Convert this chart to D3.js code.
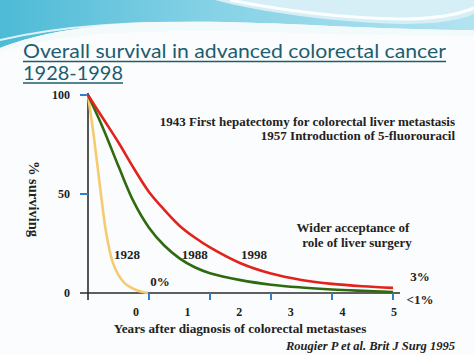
<!DOCTYPE html>
<html><head><meta charset="utf-8">
<script src="https://cdn.jsdelivr.net/npm/d3@7"></script>
<style>
html,body{margin:0;padding:0;background:#fbfcfd;}
svg{display:block;}
</style></head>
<body>
<svg id="chart" width="474" height="355"></svg>
<script>
// ---- data ----
const years1928 = [0, 0.1, 0.2, 0.3, 0.4, 0.5, 0.6, 0.7, 0.8, 0.9, 0.98];
const surv1928  = [100, 78, 53, 30, 16, 9, 5, 2.8, 1.4, 0.5, 0];
const years1988 = [0, 0.25, 0.5, 0.75, 1.0, 1.25, 1.5, 1.75, 2.0, 2.5, 3.0, 3.5, 4.0, 4.5, 5.0];
const surv1988  = [100, 83, 64, 46, 33, 24, 17.5, 13, 10, 6.5, 4.2, 2.8, 1.8, 1.1, 0.5];
const years1998 = [0, 0.25, 0.5, 0.75, 1.0, 1.25, 1.5, 1.75, 2.0, 2.5, 3.0, 3.5, 4.0, 4.5, 5.0];
const surv1998  = [100, 88, 76, 63, 51, 42, 34, 28, 23, 15, 9.8, 6.6, 4.6, 3.4, 2.6];
const seriesNames = ["1928", "1988", "1998"];
const xTickYears = [1, 2, 3, 4, 5];
const xTickLabels = ["0", "1", "2", "3", "4", "5"];
const yTicks = [0, 50, 100];
const titleLines = ["Overall survival in advanced colorectal cancer", "1928-1998"];
const annotations = ["1943 First hepatectomy for colorectal liver metastasis", "1957 Introduction of 5-fluorouracil"];
const annotation2 = ["Wider acceptance of", "role of liver surgery"];

const svg = d3.select("#chart");

// ---- header decoration ----
const defs = svg.append("defs");
const g1 = defs.append("linearGradient").attr("id","hdr").attr("x1","0").attr("x2","1").attr("y1","0").attr("y2","0");
g1.append("stop").attr("offset","0%").attr("stop-color","#4dbad6");
g1.append("stop").attr("offset","45%").attr("stop-color","#86d2e6");
g1.append("stop").attr("offset","100%").attr("stop-color","#b3e3f0");
svg.append("path").attr("d","M0,0 H474 V30 C430,30 380,28 330,26 C250,22 180,20 120,24 C70,28 30,36 0,48 Z").attr("fill","url(#hdr)");
svg.append("path").attr("d","M215,0 C260,12 330,22 400,24 C440,24 460,20 474,14 V0 Z").attr("fill","#d6eff6");
svg.append("path").attr("d","M230,0 C280,10 340,18 400,19 C440,19 460,14 474,8").attr("fill","none").attr("stroke","#ffffff").attr("stroke-width",3).attr("opacity",0.9);
svg.append("path").attr("d","M0,40 C60,26 140,20 220,24 C280,27 330,32 380,31").attr("fill","none").attr("stroke","#ffffff").attr("stroke-width",2).attr("opacity",0.8);
svg.append("path").attr("d","M0,48 C30,36 70,28 120,24 C180,20 250,22 330,26 C380,28 430,30 474,30 V36 C430,36 380,35 330,34 C240,30 160,30 100,34 C60,38 25,44 0,52 Z").attr("fill","#f2fafc");

// ---- title ----
const titleColor = "#1c5e70";
const tt = svg.append("g").attr("font-family","Lato, 'Open Sans', sans-serif").attr("font-size",20).attr("fill",titleColor);
tt.append("text").attr("x",23).attr("y",57.5).attr("textLength",423).attr("lengthAdjust","spacingAndGlyphs").text(titleLines[0]);
tt.append("text").attr("x",23).attr("y",79.5).attr("textLength",100).attr("lengthAdjust","spacingAndGlyphs").text(titleLines[1]);
svg.append("line").attr("x1",23).attr("x2",446).attr("y1",61.5).attr("y2",61.5).attr("stroke",titleColor).attr("stroke-width",1.3);
svg.append("line").attr("x1",23).attr("x2",123).attr("y1",83).attr("y2",83).attr("stroke",titleColor).attr("stroke-width",1.3);

// ---- scales ----
const x = d3.scaleLinear().domain([0,5]).range([88,393]);
const y = d3.scaleLinear().domain([0,100]).range([293,95]);
const xLab = d3.scalePoint().domain(xTickLabels).range([136,394]);

const serif = "'Liberation Serif', 'DejaVu Serif', serif";

// ---- axes ----
const axisColor = "#2b2b2b";
svg.append("line").attr("x1",80).attr("x2",400).attr("y1",y(0)).attr("y2",y(0)).attr("stroke",axisColor).attr("stroke-width",1.6);
svg.append("line").attr("x1",x(0)).attr("x2",x(0)).attr("y1",93).attr("y2",300).attr("stroke",axisColor).attr("stroke-width",1.6);

const tickBlue = "#2e7fcf";
svg.selectAll(".xt").data(xTickYears).enter().append("line")
  .attr("x1",d=>x(d)).attr("x2",d=>x(d)).attr("y1",y(0)).attr("y2",y(0)+7)
  .attr("stroke",tickBlue).attr("stroke-width",2);
svg.selectAll(".yt").data(yTicks.filter(d=>d>0)).enter().append("line")
  .attr("x1",80).attr("x2",x(0)).attr("y1",d=>y(d)).attr("y2",d=>y(d))
  .attr("stroke",tickBlue).attr("stroke-width",2);

svg.selectAll(".ytl").data(yTicks).enter().append("text")
  .attr("x",70).attr("y",d=>y(d)+4).attr("text-anchor","end")
  .attr("font-family",serif).attr("font-weight","bold").attr("font-size",12).attr("fill","#222")
  .text(d=>d);
svg.selectAll(".xtl").data(xTickLabels).enter().append("text")
  .attr("x",d=>xLab(d)).attr("y",316).attr("text-anchor","middle")
  .attr("font-family",serif).attr("font-weight","bold").attr("font-size",12).attr("fill","#222")
  .text(d=>d);

svg.append("text").attr("transform","translate(29,199) rotate(90)").attr("text-anchor","middle")
  .attr("font-family",serif).attr("font-weight","bold").attr("font-size",14.5).attr("fill","#222")
  .text("% surviving");
svg.append("text").attr("x",240).attr("y",333).attr("text-anchor","middle")
  .attr("font-family",serif).attr("font-weight","bold").attr("font-size",13.2).attr("fill","#222")
  .text("Years after diagnosis of colorectal metastases");
svg.append("text").attr("x",455).attr("y",350).attr("text-anchor","end")
  .attr("font-family",serif).attr("font-weight","bold").attr("font-style","italic").attr("font-size",12.5).attr("fill","#222")
  .text("Rougier P et al. Brit J Surg 1995");

// ---- curves ----
const line = d3.line().x(d=>x(d[0])).y(d=>y(d[1])).curve(d3.curveCatmullRom.alpha(0.5));
const series = [
  {name: seriesNames[0], pts: d3.zip(years1928, surv1928), color:"#f5cb72"},
  {name: seriesNames[1], pts: d3.zip(years1988, surv1988), color:"#2f6a10"},
  {name: seriesNames[2], pts: d3.zip(years1998, surv1998), color:"#e2231c"}
];
svg.selectAll(".curve").data(series).enter().append("path")
  .attr("d",d=>line(d.pts)).attr("fill","none").attr("stroke",d=>d.color).attr("stroke-width",2.6);

// series labels
const labPos = [[0.64,17],[1.75,17],[2.72,17]];
svg.selectAll(".sl").data(series).enter().append("text")
  .attr("x",(d,i)=>x(labPos[i][0])).attr("y",(d,i)=>y(labPos[i][1]))
  .attr("text-anchor","middle")
  .attr("font-family",serif).attr("font-weight","bold").attr("font-size",13).attr("fill","#222")
  .text(d=>d.name);

const small = svg.append("g").attr("font-family",serif).attr("font-weight","bold").attr("font-size",13).attr("fill","#222");
small.append("text").attr("x",x(1.18)).attr("y",y(3.5)).attr("text-anchor","middle").text("0%");
small.append("text").attr("x",420).attr("y",281).attr("text-anchor","middle").text("3%");
small.append("text").attr("x",420).attr("y",304).attr("text-anchor","middle").text("<1%");

const ann = svg.append("g").attr("font-family",serif).attr("font-weight","bold").attr("font-size",13).attr("fill","#222").attr("text-anchor","end");
ann.append("text").attr("x",455).attr("y",126).text(annotations[0]);
ann.append("text").attr("x",455).attr("y",139.5).text(annotations[1]);

const ann2 = svg.append("g").attr("font-family",serif).attr("font-weight","bold").attr("font-size",13).attr("fill","#222").attr("text-anchor","middle");
ann2.append("text").attr("x",353).attr("y",232).text(annotation2[0]);
ann2.append("text").attr("x",357).attr("y",247).text(annotation2[1]);
</script>
</body></html>
